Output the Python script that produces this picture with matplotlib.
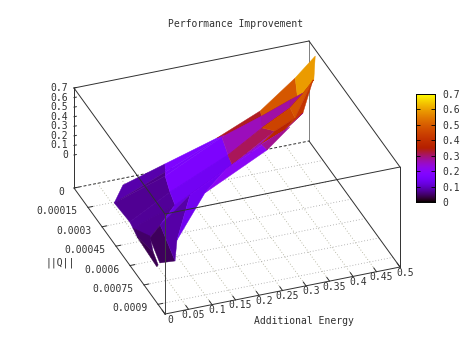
import matplotlib
matplotlib.use('Agg')
import matplotlib.pyplot as plt
import numpy as np
from matplotlib.collections import PolyCollection

plt.rcParams['font.family'] = 'DejaVu Sans Mono'
plt.rcParams['font.size'] = 7

# surface, one row per line of the mesh, drawn in this order
energy = [
    [.043, .139, .260, .351, .444, .494],
    [.004, .137, .270, .336, .423, .467],
    [.004, .131, .268, .368, .441, .473],
    [.006, .117, .253, .351, .427, .469],
    [.006, .117, .263, .332, .406, .443],
    [.005, .109, .255, .349, .400, .481],
    [.005, .107, .258, .326, .387, .433],
    [.023, .056, .144, .238, .335, .390],
    [.012, .043, .067, .173, .330, .394],
]
normQ = [
    [.000308, .000274, .000221, .000226, .000134, .000097],
    [.000411, .000290, .000227, .000353, .000268, .000218],
    [.000411, .000317, .000234, .000159, .000095, .000072],
    [.000567, .000439, .000377, .000246, .000162, .000091],
    [.000567, .000439, .000325, .000343, .000272, .000220],
    [.000606, .000533, .000410, .000394, .000353, .000139],
    [.000606, .000540, .000391, .000352, .000310, .000272],
    [.000696, .000642, .000518, .000422, .000329, .000298],
    [.000859, .000866, .000766, .000531, .000408, .000329],
]
improvement = [
    [.06, .14, .22, .42, .55, .68],
    [.05, .08, .24, .46, .52, .62],
    [.05, .08, .24, .26, .27, .28],
    [.06, .09, .26, .27, .29, .30],
    [.06, .09, .18, .42, .46, .50],
    [.05, .09, .20, .44, .47, .50],
    [.05, .10, .17, .26, .30, .38],
    [.05, .08, .14, .18, .22, .28],
    [.02, .02, .08, .15, .28, .35],
]

# the short prong left of the slit at the end of the surface
prongEnergy = [[.005, .001, .000], [.026, .012, .005]]
prongQ = [[.000606, .000672, .000886], [.000683, .000788, .000877]]
prongImprovement = [[.05, .05, .03], [.05, .04, .03]]

xTicks = [0, .05, .1, .15, .2, .25, .3, .35, .4, .45, .5]
xLabels = ['0', '0.05', '0.1', '0.15', '0.2', '0.25', '0.3', '0.35', '0.4', '0.45', '0.5']
yTicks = [0, .00015, .0003, .00045, .0006, .00075, .0009]
yLabels = ['0', '0.00015', '0.0003', '0.00045', '0.0006', '0.00075', '0.0009']
zTicks = [0, .1, .2, .3, .4, .5, .6, .7]
zLabels = ['0', '0.1', '0.2', '0.3', '0.4', '0.5', '0.6', '0.7']

xMax = .5
yMax = .000975
zTop = .7
zBase = -.345


def project(x, y, z):
    """
    Takes data coordinates and gives the position on the page, gnuplot style view
    """
    x, y, z = np.asarray(x), np.asarray(y), np.asarray(z)
    return 74 + 470 * x + 93333 * y, 155 - 94 * x + 129231 * y - 95.7 * z


def edge(ax, a, b, lw=.7, color='#303030', ls='-', zorder=2):
    sx, sy = project(*zip(a, b))
    ax.plot(sx, sy, color=color, lw=lw, ls=ls, zorder=zorder)


def addMesh(ax, xs, ys, zs, cmap, zorder):
    xs, ys, zs = np.array(xs), np.array(ys), np.array(zs)
    sx, sy = project(xs, ys, zs)
    polys = []
    vals = []
    for i in range(xs.shape[0] - 1):
        for j in range(xs.shape[1] - 1):
            polys.append([(sx[i, j], sy[i, j]), (sx[i, j + 1], sy[i, j + 1]),
                          (sx[i + 1, j + 1], sy[i + 1, j + 1]), (sx[i + 1, j], sy[i + 1, j])])
            vals.append(zs[i:i + 2, j:j + 2].mean())
    colors = cmap(np.array(vals) / zTop)
    ax.add_collection(PolyCollection(polys, facecolors=colors, edgecolors=colors, linewidths=.3, zorder=zorder))


fig = plt.figure(figsize=(4.74, 3.55), dpi=100)
ax = fig.add_axes([0, 0, 1, 1])
ax.set_xlim(0, 474)
ax.set_ylim(355, 0)
ax.axis('off')

cmap = plt.get_cmap('gnuplot')

# base grid
for t in xTicks[1:-1]:
    edge(ax, (t, 0, zBase), (t, yMax, zBase), lw=.6, color='#a8a890', ls=(0, (1, 2.5)), zorder=1)
for t in yTicks[1:]:
    edge(ax, (0, t, zBase), (xMax, t, zBase), lw=.6, color='#a0a0a0', ls=(0, (1, 2.5)), zorder=1)

# back of the box
edge(ax, (0, 0, zBase), (xMax, 0, zBase), ls=(0, (3, 2)), zorder=1)
edge(ax, (xMax, 0, zBase), (xMax, 0, zTop), color='#808080', zorder=1)
edge(ax, (0, 0, zTop), (xMax, 0, zTop), zorder=1)
edge(ax, (xMax, 0, zTop), (xMax, yMax, zTop), zorder=1)
edge(ax, (xMax, 0, zBase), (xMax, yMax, zBase), zorder=1)
edge(ax, (0, 0, zBase), (0, yMax, zBase), zorder=1)
edge(ax, (0, 0, zBase), (0, 0, zTop), zorder=1)
edge(ax, (xMax, yMax, zBase), (xMax, yMax, zTop), zorder=1)
edge(ax, (0, yMax, zBase), (xMax, yMax, zBase), zorder=1)

addMesh(ax, energy, normQ, improvement, cmap, 3)
addMesh(ax, prongEnergy, prongQ, prongImprovement, cmap, 3)

# front of the box goes over the surface
edge(ax, (0, 0, zTop), (0, yMax, zTop), zorder=4)
edge(ax, (0, yMax, zTop), (xMax, yMax, zTop), zorder=4)
edge(ax, (0, yMax, zBase), (0, yMax, zTop), color='#404040', zorder=4)

# ticks and their labels
for t, lab in zip(xTicks, xLabels):
    edge(ax, (t, yMax, zBase), (t, yMax * .97, zBase), zorder=2)
    sx, sy = project(t, yMax, zBase)
    ax.text(sx + 5, sy + 5.5, lab, ha='center', va='center', color='#303030')
for t, lab in zip(yTicks, yLabels):
    edge(ax, (0, t, zBase), (.01, t, zBase), zorder=2)
    sx, sy = project(0, t, zBase)
    ax.text(sx - 10, sy + 4, lab, ha='right', va='center', color='#303030')
for t, lab in zip(zTicks, zLabels):
    edge(ax, (0, 0, t), (.005, 0, t), zorder=2)
    sx, sy = project(0, 0, t)
    ax.text(sx - 6, sy, lab, ha='right', va='center', color='#303030')

ax.text(236, 24, 'Performance Improvement', ha='center', va='center', color='#303030')
ax.text(304, 321, 'Additional Energy', ha='center', va='center', color='#303030')
ax.text(60, 263, '||Q||', ha='center', va='center', color='#303030')

# colour box
cax = fig.add_axes([416 / 474, 1 - 202 / 355, 19 / 474, 108 / 355])
gradient = np.linspace(0, 1, 256).reshape(-1, 1)
cax.imshow(gradient, aspect='auto', origin='lower', cmap=cmap, extent=[0, 1, 0, zTop])
cax.set_xticks([])
cax.set_yticks(zTicks)
cax.set_yticklabels(zLabels, color='#303030')
cax.yaxis.tick_right()
cax.tick_params(axis='y', direction='in', length=3, width=.6, pad=5, left=True, right=True, labelsize=7)
for s in cax.spines.values():
    s.set_linewidth(.7)

fig.savefig('out.png', dpi=100)
